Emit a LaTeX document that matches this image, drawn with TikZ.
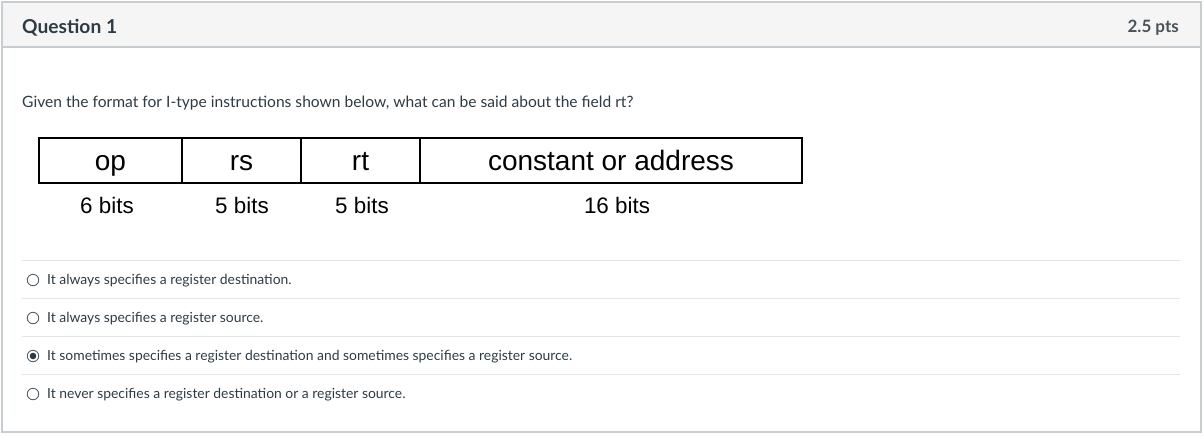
\documentclass[tikz,border=0pt]{standalone}
\usepackage{fontspec}
\setmainfont{Lato}
\newfontfamily\arialfont{Liberation Sans}
\usetikzlibrary{positioning}
\definecolor{QFrame}{HTML}{C7CDD1}
\definecolor{QHead}{HTML}{F5F5F5}
\definecolor{QText}{HTML}{2D3B45}
\definecolor{QPts}{HTML}{4A5258}
\definecolor{QRule}{HTML}{E3E6E8}
\tikzset{
    cell/.style = {draw, rectangle, line width=1.6pt,
        minimum height=45pt, inner sep=0pt,
        text height=22pt, text depth=3pt,
        font=\arialfont\fontsize{28}{32}\selectfont},
    bits/.style = {anchor=base, inner sep=0pt,
        font=\arialfont\fontsize{22.4}{26}\selectfont},
    answer/.style = {anchor=base west, inner sep=0pt, text=QText,
        font=\fontsize{13.9}{17}\selectfont},
    radio/.style = {draw=QText!80, circle, line width=0.9pt,
        minimum size=11.5pt, inner sep=0pt},
    rule/.style = {draw=QRule, line width=1pt}
}
\begin{document}
\begin{tikzpicture}[x=1pt,y=-1pt]
        \useasboundingbox (0,0) rectangle (1204,437);
        \fill[color=QHead] (2,2) rectangle (1201,47);
        \draw[color=QFrame,line width=1.2pt] (2,2) rectangle (1201,432);
        \draw[color=QFrame,line width=1.2pt] (2,47) -- (1201,47);
        \node [anchor=base west,inner sep=0pt,text=QText,font=\bfseries\fontsize{19.2}{23}\selectfont] (qtitle) at (22,33) {Question 1};
        \node [anchor=base east,inner sep=0pt,text=QPts,font=\bfseries\fontsize{17}{20}\selectfont] (qpts) at (1179,32) {2.5 pts};
        \node [anchor=base west,inner sep=0pt,text=QText,font=\fontsize{15.6}{19}\selectfont] (qtext) at (22,107) {Given the format for I-type instructions shown below, what can be said about the field rt?};
        % instruction fields
        \node [cell, minimum width=143pt] (op) at (110.5,160.5) {op};
        \node [cell, minimum width=119pt] (rs) at (241.5,160.5) {rs};
        \node [cell, minimum width=119pt] (rt) at (360.5,160.5) {rt};
        \node [cell, minimum width=382pt] (addr) at (611,160.5) {constant or address};
        \node [bits] (opbits) at (107,213) {6 bits};
        \node [bits] (rsbits) at (242,213) {5 bits};
        \node [bits] (rtbits) at (362,213) {5 bits};
        \node [bits] (addrbits) at (617,213) {16 bits};
        % answers
        \draw[rule] (22,260) -- (1180,260);
        \draw[rule] (22,298) -- (1180,298);
        \draw[rule] (22,336) -- (1180,336);
        \draw[rule] (22,374) -- (1180,374);
        \node [radio] (r1) at (33,280) {};
        \node [radio] (r2) at (33,318) {};
        \node [radio] (r3) at (33,356) {};
        \node [radio] (r4) at (33,394) {};
        \fill[color=QText] (r3.center) circle (3.3pt);
        \node [answer] (a1) at (47,284) {It always specifies a register destination.};
        \node [answer] (a2) at (47,322) {It always specifies a register source.};
        \node [answer] (a3) at (47,360) {It sometimes specifies a register destination and sometimes specifies a register source.};
        \node [answer] (a4) at (47,398) {It never specifies a register destination or a register source.};
    \end{tikzpicture}
\end{document}
